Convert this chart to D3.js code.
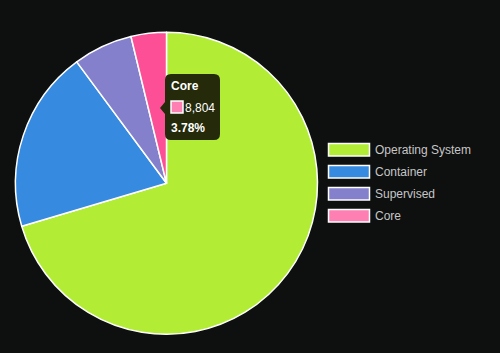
<!DOCTYPE html>
<html><head><meta charset="utf-8">
<script src="https://cdn.jsdelivr.net/npm/d3@7"></script>
<style>
html,body{margin:0;padding:0;background:#0e0f0f;}
svg{display:block;font-family:"Liberation Sans",Arial,Helvetica,sans-serif;}
</style></head>
<body><svg id="c" width="500" height="353"></svg>
<script>
const categories = ["Operating System", "Container", "Supervised", "Core"];
const values = [164000, 45300, 14800, 8804];
const colors = ["#b2ec35", "#368ae0", "#8480cb", "#fe80b2"];
const hoverColors = ["#b2ec35", "#368ae0", "#8480cb", "#fd4f96"];
const hovered = 3;

const svg = d3.select("#c");
svg.append("rect").attr("width",500).attr("height",353).attr("fill","#0e0f0f");

const cx = 166.5, cy = 183.3, r = 151;
const pie = d3.pie().sort(null).value(d=>d)(values);
const arc = d3.arc().innerRadius(0).outerRadius(r);
const g = svg.append("g").attr("transform",`translate(${cx},${cy})`);
g.selectAll("path").data(pie).join("path")
  .attr("d",arc)
  .attr("fill",(d,i)=> i===hovered ? hoverColors[i] : colors[i])
  .attr("stroke","#fff").attr("stroke-width",1.5).attr("stroke-linejoin","round");

// legend
const leg = svg.append("g");
const ly = d3.scalePoint().domain(categories).range([143.5, 209.5]);
categories.forEach((c,i)=>{
  const y = ly(c);
  leg.append("rect").attr("x",328.5).attr("y",y).attr("width",41).attr("height",12.5)
    .attr("fill",colors[i]).attr("stroke","#fff").attr("stroke-width",1.5);
  leg.append("text").attr("x",375).attr("y",y+10.5).attr("fill","#c6c6c6")
    .attr("font-size",12).text(c);
});

// tooltip
const total = d3.sum(values);
const pct = (values[hovered]/total*100).toFixed(2)+"%";
const tt = svg.append("g").attr("transform","translate(165,74)");
tt.append("path")
  .attr("d","M6,0 H49 Q55,0 55,6 V60 Q55,66 49,66 H6 Q0,66 0,60 V40 L-5,34 L0,28 V6 Q0,0 6,0 Z")
  .attr("fill","#242a0a");
tt.append("text").attr("x",6).attr("y",16).attr("fill","#fff").attr("font-size",12)
  .attr("font-weight","bold").text(categories[hovered]);
tt.append("rect").attr("x",6).attr("y",27).attr("width",12).attr("height",12)
  .attr("fill",colors[hovered]).attr("stroke","#fff").attr("stroke-width",1.5);
tt.append("text").attr("x",20).attr("y",38).attr("fill","#fff").attr("font-size",12)
  .text(d3.format(",")(values[hovered]));
tt.append("text").attr("x",6).attr("y",58).attr("fill","#fff").attr("font-size",12)
  .attr("font-weight","bold").text(pct);
</script></body></html>
